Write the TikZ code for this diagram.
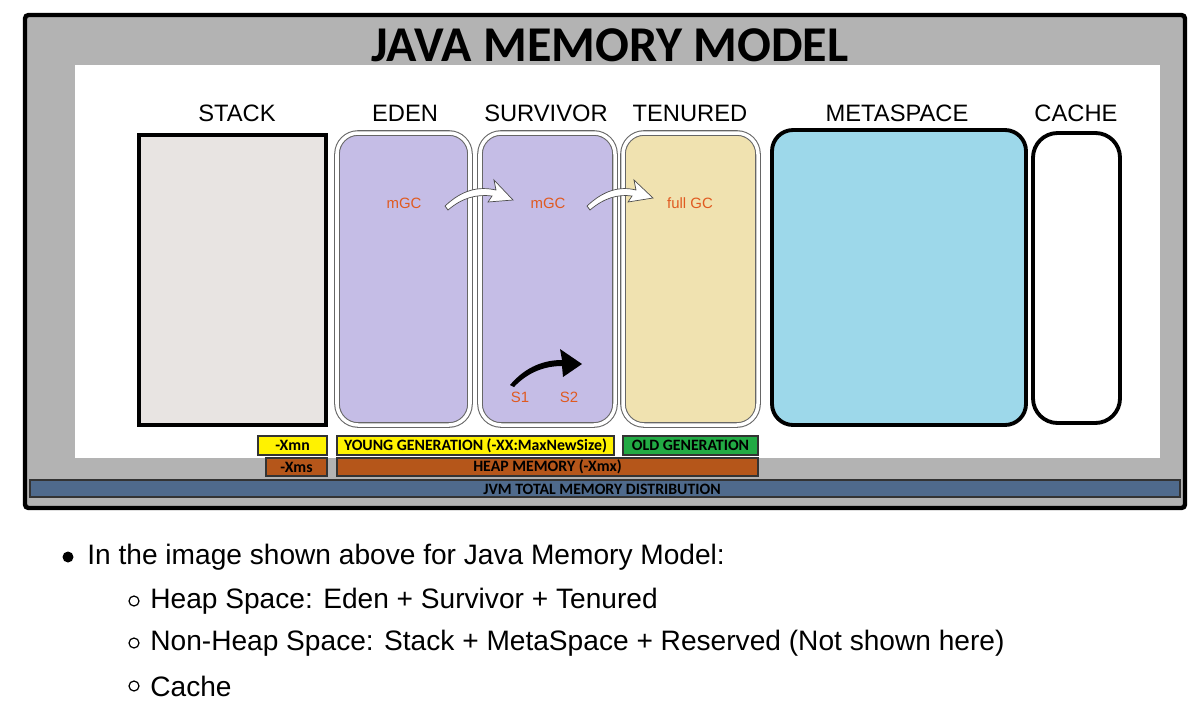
\documentclass[tikz,border=0pt]{standalone}
\usepackage{fontspec}
\setmainfont{Liberation Sans}
\newfontfamily\titlefont{Carlito}
\usetikzlibrary{positioning}
\definecolor{framegray}{HTML}{B3B3B3}
\definecolor{stackfill}{HTML}{E8E4E2}
\definecolor{youngfill}{HTML}{C5BDE6}
\definecolor{oldfill}{HTML}{F0E2B0}
\definecolor{metafill}{HTML}{9DD8EA}
\definecolor{gcorange}{HTML}{E05A20}
\definecolor{heapbrown}{HTML}{B5561A}
\definecolor{oldgreen}{HTML}{22AA44}
\definecolor{jvmblue}{HTML}{4F6A8C}
\tikzset{
every node/.style={inner sep=0pt}
, arealabel/.style={font=\fontsize{13.5}{15}\selectfont}
, genbox/.style={rounded corners=12pt,draw=black!60,double=white,double distance=2pt,line width=0.6pt}
, blackbox/.style={draw=black,line width=2.2pt}
, gclabel/.style={font=\fontsize{8.5}{10}\selectfont,color=gcorange}
, membar/.style={draw=black!80,line width=0.6pt,font=\titlefont\bfseries\fontsize{9}{10}\selectfont}
, bullettext/.style={anchor=west,font=\fontsize{16}{18}\selectfont}
, gcarrow/.style={draw=black!70,fill=white,line width=0.4pt}
}
\begin{document}
\begin{tikzpicture}[x=0.02cm,y=-0.02cm]
\useasboundingbox (0,0) rectangle (1200,704);
% frame and panel
\draw[fill=framegray,line width=2.5pt,rounded corners=2pt] (25,15) rectangle (1185,508);
\fill[white] (75,65) rectangle (1160,458);
\node[font=\titlefont\bfseries\fontsize{28.5}{30}\selectfont] (title) at (610,45) {JAVA MEMORY MODEL};
% areas
\node[blackbox,fill=stackfill,minimum width=187*0.02cm,minimum height=290*0.02cm] (stack) at (232.5,280) {};
\node[genbox,fill=youngfill,minimum width=133*0.02cm,minimum height=292*0.02cm] (eden) at (403.5,279) {};
\node[genbox,fill=youngfill,minimum width=135*0.02cm,minimum height=292*0.02cm] (surv) at (547.5,279) {};
\node[genbox,fill=oldfill,minimum width=135*0.02cm,minimum height=292*0.02cm] (ten) at (690.5,279) {};
\node[blackbox,fill=metafill,rounded corners=12pt,minimum width=254*0.02cm,minimum height=295*0.02cm] (meta) at (899,277.5) {};
\node[blackbox,fill=white,rounded corners=14pt,minimum width=87*0.02cm,minimum height=290*0.02cm] (cache) at (1076.5,278) {};
\node[arealabel] at (237,113) {STACK};
\node[arealabel] at (405,113) {EDEN};
\node[arealabel] at (546,113) {SURVIVOR};
\node[arealabel] at (690,113) {TENURED};
\node[arealabel] at (897,113) {METASPACE};
\node[arealabel] at (1076,113) {CACHE};
% gc labels
\node[gclabel] (gc1) at (404,203) {mGC};
\node[gclabel] (gc2) at (548,203) {mGC};
\node[gclabel] (gc3) at (690,203) {full GC};
\node[gclabel] (s1) at (520,397) {S1};
\node[gclabel] (s2) at (569,397) {S2};
% white arrows
\draw[gcarrow] (445,206) .. controls (462,190) and (478,186) .. (496,190) -- (494,180) -- (513,200) -- (488,202) -- (492,196) .. controls (476,194) and (462,198) .. (448,210) -- cycle;
\draw[gcarrow] (587,206) .. controls (604,190) and (620,186) .. (636,190) -- (634,180) -- (653,198) -- (628,202) -- (632,196) .. controls (618,194) and (604,198) .. (590,210) -- cycle;
% black arrow
\fill (510,385) .. controls (526,366) and (545,360) .. (562,360) -- (560,349) -- (582,364) -- (563,377) -- (562,366) .. controls (545,366) and (528,372) .. (514,387) -- cycle;
% bars
\node[membar,fill=yellow,minimum width=69*0.02cm,minimum height=19*0.02cm] (xmn) at (292.5,445.5) {-Xmn};
\node[membar,fill=yellow,minimum width=277*0.02cm,minimum height=19*0.02cm] (young) at (475.5,445.5) {YOUNG GENERATION (-XX:MaxNewSize)};
\node[membar,fill=oldgreen,minimum width=135*0.02cm,minimum height=19*0.02cm] (old) at (690.5,445.5) {OLD GENERATION};
\node[membar,fill=heapbrown,minimum width=61*0.02cm,minimum height=18*0.02cm] (xms) at (296.5,467) {-Xms};
\node[membar,fill=heapbrown,minimum width=421*0.02cm,minimum height=18*0.02cm] (heap) at (547.5,467) {HEAP MEMORY (-Xmx)};
\draw[membar,fill=jvmblue] (30,480) rectangle (1180,497);
\node[membar,draw=none] (jvm) at (602,489) {JVM TOTAL MEMORY DISTRIBUTION};
% bullets
\fill (68,557) circle (5.5);
\node[bullettext] (b1) at (87,557) {In the image shown above for Java Memory Model:};
\foreach \yy/\txt in {601/{Heap Space: Eden + Survivor + Tenured},643/{Non-Heap Space: Stack + MetaSpace + Reserved (Not shown here)},686/{Cache}}{
\draw[line width=0.7pt] (134,\yy) circle (5);
\node[bullettext] at (150,\yy) {\txt};
}
\end{tikzpicture}
\end{document}
